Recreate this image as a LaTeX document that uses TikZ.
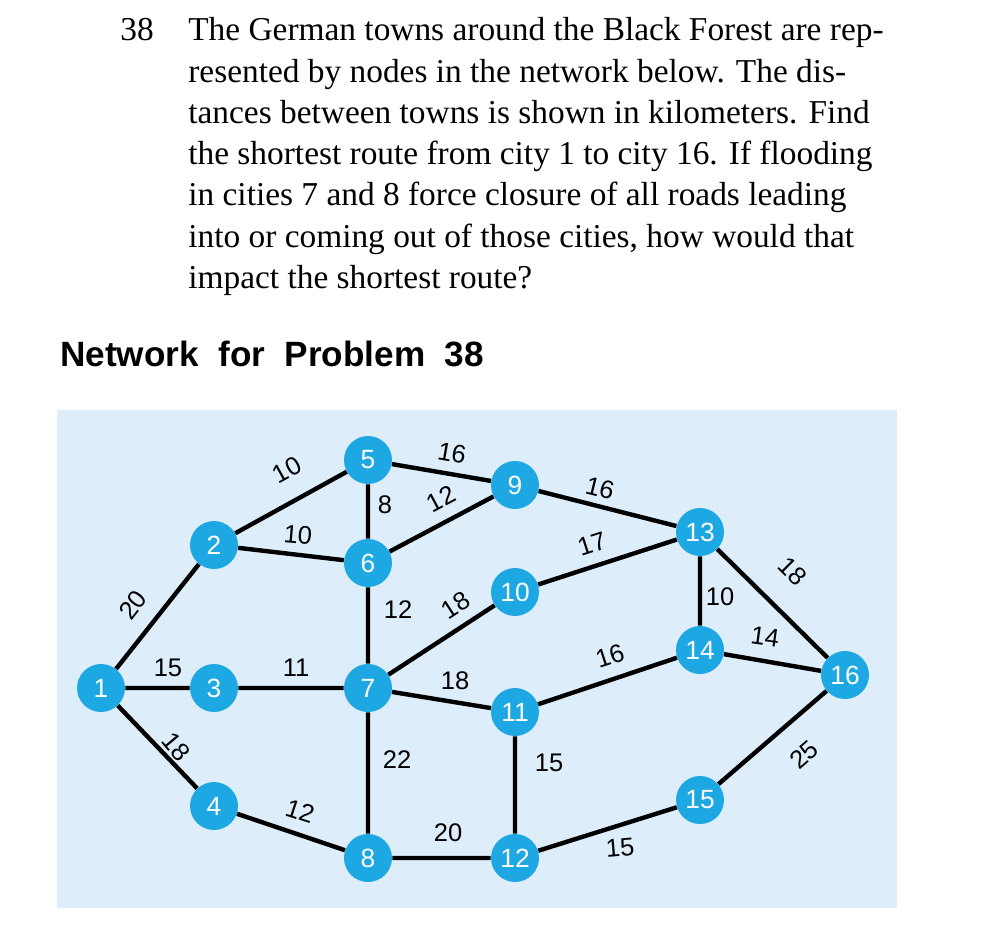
\documentclass[tikz,border=0pt]{standalone}
\usepackage{fontspec}
\setmainfont{Liberation Serif}
\newfontfamily\lsans{Liberation Sans}
\definecolor{bgblue}{HTML}{DDEEFA}
\definecolor{nodeblue}{HTML}{1DA8E4}
\begin{document}
\begin{tikzpicture}[x=0.02cm,y=-0.02cm,
  town/.style={circle,fill=nodeblue,minimum size=0.96cm,inner sep=0pt,text=white,font=\lsans\fontsize{15}{15}\selectfont},
  road/.style={line width=2.5pt,black},
  lbl/.style={font=\lsans\fontsize{14.5}{15}\selectfont,inner sep=0pt},
  para/.style={anchor=base west,inner sep=0pt,font=\fontsize{19}{23}\selectfont}]
\useasboundingbox (0,0) rectangle (1004,934);
\fill[bgblue] (57,410) rectangle (897,908);
% text
\node[para] (num) at (120,40) {38};
\node[para] (t1) at (188,40) {The German towns around the Black Forest are rep-};
\node[para] (t2) at (188,82) {resented by nodes in the network below. The dis-};
\node[para] (t3) at (188,123) {tances between towns is shown in kilometers. Find};
\node[para] (t4) at (188,164) {the shortest route from city 1 to city 16. If flooding};
\node[para] (t5) at (188,205) {in cities 7 and 8 force closure of all roads leading};
\node[para] (t6) at (188,247) {into or coming out of those cities, how would that};
\node[para] (t7) at (188,288) {impact the shortest route?};
\node[anchor=base west,inner sep=0pt,font=\lsans\bfseries\fontsize{20}{22}\selectfont] (hd) at (60,366) {Network\ \ for\ \ Problem\ \ 38};
% nodes
\node[town] (n1) at (101,688) {1};
\node[town] (n2) at (214,545) {2};
\node[town] (n3) at (214,688) {3};
\node[town] (n4) at (214,806) {4};
\node[town] (n5) at (368,460) {5};
\node[town] (n6) at (368,563) {6};
\node[town] (n7) at (368,688) {7};
\node[town] (n8) at (368,858) {8};
\node[town] (n9) at (515,485) {9};
\node[town] (n10) at (515,592) {10};
\node[town] (n11) at (515,712) {11};
\node[town] (n12) at (515,858) {12};
\node[town] (n13) at (700,532) {13};
\node[town] (n14) at (700,650) {14};
\node[town] (n15) at (700,800) {15};
\node[town] (n16) at (845,675) {16};
% roads
\draw[road] (n1)--(n2) (n1)--(n3) (n1)--(n4) (n2)--(n5) (n2)--(n6) (n3)--(n7)
 (n4)--(n8) (n5)--(n6) (n5)--(n9) (n6)--(n7) (n6)--(n9) (n7)--(n8) (n7)--(n10)
 (n7)--(n11) (n8)--(n12) (n9)--(n13) (n10)--(n13) (n11)--(n12) (n11)--(n14)
 (n12)--(n15) (n13)--(n14) (n13)--(n16) (n14)--(n16) (n15)--(n16);
% labels
\node[lbl,rotate=52] (l1) at (133,605) {20};
\node[lbl,rotate=-50] (l2) at (176,747) {18};
\node[lbl] (l3) at (168,668) {15};
\node[lbl,rotate=29] (l4) at (287,470) {10};
\node[lbl,rotate=-5] (l5) at (298,535) {10};
\node[lbl] (l6) at (296,668) {11};
\node[lbl,rotate=-18] (l7) at (300,811) {12};
\node[lbl,rotate=-10] (l8) at (452,453) {16};
\node[lbl] (l9) at (385,505) {8};
\node[lbl,rotate=28] (l10) at (441,499) {12};
\node[lbl] (l11) at (398,610) {12};
\node[lbl,rotate=33] (l12) at (456,605) {18};
\node[lbl] (l13) at (455,681) {18};
\node[lbl] (l14) at (397,760) {22};
\node[lbl] (l15) at (448,833) {20};
\node[lbl,rotate=-14] (l16) at (600,488) {16};
\node[lbl,rotate=18] (l17) at (592,544) {17};
\node[lbl,rotate=18] (l18) at (610,656) {16};
\node[lbl] (l19) at (549,763) {15};
\node[lbl,rotate=5] (l20) at (620,848) {15};
\node[lbl] (l21) at (720,597) {10};
\node[lbl,rotate=-45] (l22) at (793,571) {18};
\node[lbl,rotate=-8] (l23) at (765,637) {14};
\node[lbl,rotate=41] (l24) at (804,755) {25};
\end{tikzpicture}
\end{document}
